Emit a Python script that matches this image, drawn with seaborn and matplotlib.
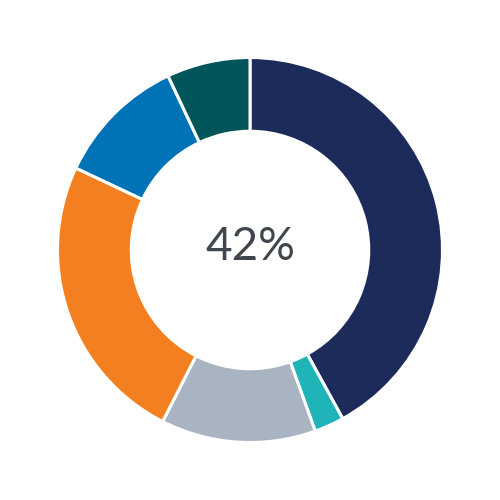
import matplotlib
matplotlib.use("Agg")
import matplotlib.pyplot as plt
import seaborn as sns

sns.set_theme(style="white")
plt.rcParams['font.family'] = ['Lato', 'DejaVu Sans']

# slices, clockwise from the top
labels = ["Navy", "Teal", "Grey", "Orange", "Blue", "Dark teal"]
shares = [42, 2.5, 13, 24.5, 11, 7]
colors = ["#1c2b5a", "#1fb5b8", "#a9b4c2", "#f47f20", "#0073b6", "#00555a"]
center_label = "42%"

fig, ax = plt.subplots(figsize=(5, 5), dpi=100)
fig.subplots_adjust(left=0, right=1, bottom=0, top=1)

ax.pie(shares, colors=colors, startangle=90, counterclock=False,
       radius=0.77,
       wedgeprops=dict(width=0.295, edgecolor="white", linewidth=2.2))
ax.text(0, 0.01, center_label, ha="center", va="center",
        fontsize=33, color="#40464d", fontweight="normal")
ax.set_xlim(-1, 1)
ax.set_ylim(-1, 1)
ax.set_aspect("equal")
ax.axis("off")

plt.savefig("out.png", dpi=100, facecolor="white")
